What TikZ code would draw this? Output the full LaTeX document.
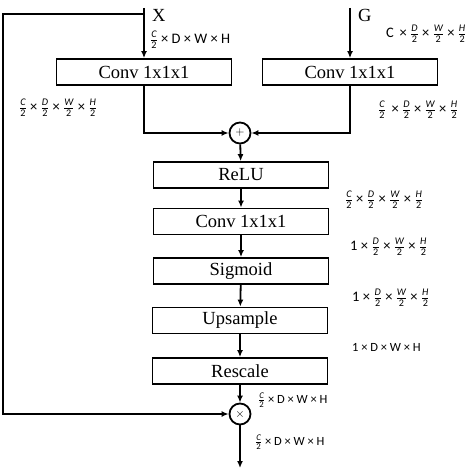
\documentclass[tikz,border=0pt]{standalone}
\usepackage{amsmath}
\usepackage{fontspec}
\setmainfont{Liberation Serif}
\newfontfamily\dimfont{Carlito}
\usetikzlibrary{positioning,arrows.meta}

\newcommand{\hf}[1]{$\frac{\textit{#1}}{\text{2}}$}

\begin{document}
\begin{tikzpicture}[x=1pt,y=-1pt,
  every node/.style={font=\fontsize{18.5}{21}\selectfont},
  blk/.style={rectangle,draw,line width=1.8pt,minimum width=175pt,
              minimum height=26pt,inner sep=0pt},
  opnode/.style={circle,draw,line width=1.8pt,minimum size=21pt,
              inner sep=0pt,font=\fontsize{13}{14}\selectfont},
  dim/.style={anchor=west,inner sep=0pt,font=\dimfont\fontsize{14.5}{16}\selectfont},
  dimsm/.style={dim,font=\dimfont\fontsize{12.5}{14}\selectfont},
  arr/.style={-{Latex[length=7pt,width=6pt]},line width=1.8pt},
]
\useasboundingbox (0,0) rectangle (474,470);

% input branches
\node[blk] (convx) at (144,72) {Conv 1x1x1};
\node[blk] (convg) at (350,72) {Conv 1x1x1};
\coordinate (xin) at (144,8);
\coordinate (xturn) at (144,14);
\coordinate (xleft) at (3,14);
\coordinate (gin) at (350,8);
\node[anchor=west,inner sep=0pt] (xlbl) at (152,15) {X};
\node[anchor=west,inner sep=0pt] (glbl) at (358,15) {G};

% gating chain
\node[opnode] (plus) at (240,133) {$+$};
\node[blk] (relu) at (241,175) {ReLU};
\node[blk] (conv1) at (241,221.5) {Conv 1x1x1};
\node[blk] (sig) at (241,271) {Sigmoid};
\node[blk] (up) at (240,320.5) {Upsample};
\node[blk] (resc) at (240,371) {Rescale};
\node[opnode] (times) at (240,414) {$\times$};
\coordinate (out) at (240,468);

% tensor sizes
\node[dim] (dx) at (150,40) {\hf{C} × D × W × H};
\node[dim] (dg) at (386,34) {C \,× \hf{D} × \hf{W} × \hf{H}};
\node[dim] (dl) at (19,108) {\hf{C} × \hf{D} × \hf{W} × \hf{H}};
\node[dim] (dr) at (378,110) {\hf{C} \,× \hf{D} × \hf{W} × \hf{H}};
\node[dim] (d1) at (345,200) {\hf{C} × \hf{D} × \hf{W} × \hf{H}};
\node[dim] (d2) at (350,247) {1 × \hf{D} × \hf{W} × \hf{H}};
\node[dim] (d3) at (352,298) {1 × \hf{D} × \hf{W} × \hf{H}};
\node[dimsm] (d4) at (352,347) {1 × D × W × H};
\node[dimsm] (d5) at (258,400) {\hf{C} × D × W × H};
\node[dimsm] (d6) at (255,442) {\hf{C} × D × W × H};

\draw[arr] (xin) -- (convx);
\draw[arr] (gin) -- (convg);
\draw[arr] (xturn) -- (xleft) |- (times);
\draw[arr] (convx.south) |- (plus);
\draw[arr] (convg.south) |- (plus);
\draw[arr] (plus) -- (relu);
\draw[arr] (relu) -- (conv1);
\draw[arr] (conv1) -- (sig);
\draw[arr] (sig) -- (up);
\draw[arr] (up) -- (resc);
\draw[arr] (resc) -- (times);
\draw[arr] (times) -- (out);
\end{tikzpicture}
\end{document}
